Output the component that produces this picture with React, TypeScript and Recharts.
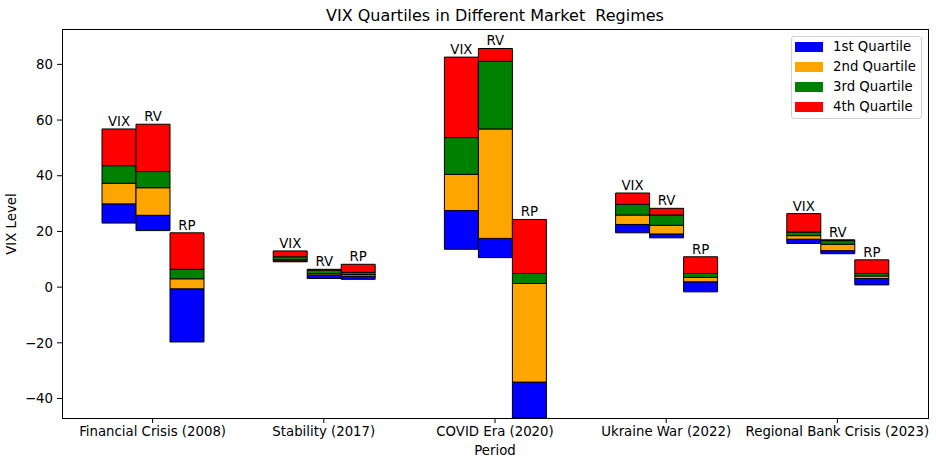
import { BarChart, Bar, XAxis, YAxis, Legend, LabelList } from 'recharts';

// period names on the x axis
const periods = [
  'Financial Crisis (2008)',
  'Stability (2017)',
  'COVID Era (2020)',
  'Ukraine War (2022)',
  'Regional Bank Crisis (2023)',
];

// each entry: [min, 1st, 2nd, 3rd, 4th quartile tops]
const vixBounds = [
  [23.0, 29.9, 37.3, 43.6, 56.8],
  [9.1, 9.5, 9.9, 10.9, 13.0],
  [13.6, 27.5, 40.5, 53.7, 82.6],
  [19.5, 22.5, 25.9, 29.7, 33.8],
  [15.7, 17.2, 18.5, 19.8, 26.4],
];
const rvBounds = [
  [20.3, 25.8, 35.7, 41.5, 58.5],
  [3.1, 4.3, 4.8, 6.1, 6.4],
  [10.6, 17.5, 56.8, 81.1, 85.7],
  [17.7, 19.1, 22.2, 25.9, 28.3],
  [12.0, 13.1, 15.4, 16.7, 17.0],
];
const rpBounds = [
  [-19.7, -0.6, 3.0, 6.4, 19.5],
  [2.8, 3.9, 4.5, 5.3, 8.2],
  [-47.0, -34.1, 1.3, 4.9, 24.3],
  [-1.7, 1.9, 3.5, 4.9, 10.9],
  [0.8, 3.1, 4.0, 4.9, 9.8],
];

const quartileNames = ['1st Quartile', '2nd Quartile', '3rd Quartile', '4th Quartile'];
const quartileColors = ['blue', 'orange', 'green', 'red'];
const yTicks = [-40, -20, 0, 20, 40, 60, 80];

const metrics = [
  { key: 'vix', label: 'VIX', bounds: vixBounds },
  { key: 'rv', label: 'RV', bounds: rvBounds },
  { key: 'rp', label: 'RP', bounds: rpBounds },
];

// invisible base + one segment per quartile, stacked per metric
const chartData = periods.map((period, i) => {
  const row: Record<string, any> = { period };
  metrics.forEach((m) => {
    const b = m.bounds[i];
    row[`${m.key}_base`] = b[0];
    for (let q = 0; q < 4; q++) row[`${m.key}_q${q + 1}`] = b[q + 1] - b[q];
  });
  return row;
});

const FONT = '"DejaVu Sans", sans-serif';

const renderLegend = (props: any) => {
  const items = (props.payload || []).filter((p: any) => p.type !== 'none');
  return (
    <div
      style={{
        width: 131,
        height: 83,
        boxSizing: 'border-box',
        background: 'rgba(255,255,255,0.8)',
        border: '1px solid #d0d0d0',
        borderRadius: 3,
        paddingLeft: 3,
        fontFamily: FONT,
        fontSize: 13.3,
        color: '#000',
      }}
    >
      {items.map((item: any) => (
        <div key={item.value} style={{ height: 20, display: 'flex', alignItems: 'center' }}>
          <span style={{ width: 28, height: 10, background: item.color, marginRight: 10 }} />
          <span style={{ lineHeight: '20px', whiteSpace: 'nowrap' }}>{item.value}</span>
        </div>
      ))}
    </div>
  );
};

export default function App() {
  return (
    <div style={{ position: 'absolute', left: 0, top: 0, width: 936, height: 464, fontFamily: FONT, background: '#fff' }}>
      <div
        style={{
          position: 'absolute',
          left: 62,
          top: 0,
          width: 866,
          lineHeight: '32px',
          fontSize: 16,
          textAlign: 'center',
          whiteSpace: 'pre',
        }}
      >
        {'VIX Quartiles in Different Market  Regimes'}
      </div>

      <BarChart
        width={936}
        height={464}
        data={chartData}
        margin={{ top: 29, right: 8, bottom: 0, left: 0 }}
        barSize={34}
        barGap={0}
        stackOffset="none"
      >
        <XAxis
          dataKey="period"
          type="category"
          height={46}
          padding={{ left: 5, right: 5 }}
          axisLine={false}
          stroke="#000"
          tickSize={5}
          tickMargin={4}
          tick={{ fill: '#000', fontSize: 13.3, fontFamily: FONT }}
          interval={0}
        />
        <YAxis
          type="number"
          width={62}
          domain={[-47, 92.7]}
          ticks={yTicks}
          allowDataOverflow
          axisLine={false}
          stroke="#000"
          tickSize={5}
          tickMargin={4}
          tick={{ fill: '#000', fontSize: 13.3, fontFamily: FONT }}
          tickFormatter={(v: number) => (v < 0 ? `\u2212${Math.abs(v)}` : `${v}`)}
        />
        <Legend
          layout="vertical"
          align="center"
          verticalAlign="middle"
          content={renderLegend}
          wrapperStyle={{ top: 36, left: 791, width: 131, height: 83 }}
        />
        {metrics.map((m, mi) => [
          <Bar
            key={`${m.key}_base`}
            dataKey={`${m.key}_base`}
            stackId={m.key}
            fill="transparent"
            stroke="none"
            legendType="none"
            isAnimationActive={false}
          />,
          ...quartileNames.map((name, q) => (
            <Bar
              key={`${m.key}_q${q + 1}`}
              dataKey={`${m.key}_q${q + 1}`}
              stackId={m.key}
              name={name}
              fill={quartileColors[q]}
              stroke="#000"
              strokeWidth={1}
              legendType={mi === 0 ? 'rect' : 'none'}
              isAnimationActive={false}
            >
              {q === 3 && (
                <LabelList
                  position="top"
                  offset={3}
                  formatter={() => m.label}
                  fill="#000"
                  fontSize={13.3}
                  fontFamily={FONT}
                />
              )}
            </Bar>
          )),
        ])}
      </BarChart>

      {/* axes frame */}
      <div
        style={{
          position: 'absolute',
          left: 62,
          top: 29,
          width: 867,
          height: 390,
          boxSizing: 'border-box',
          border: '1px solid #000',
          pointerEvents: 'none',
        }}
      />

      <div
        style={{
          position: 'absolute',
          left: 62,
          top: 441,
          width: 866,
          lineHeight: '20px',
          fontSize: 13.3,
          textAlign: 'center',
        }}
      >
        Period
      </div>
      <div
        style={{
          position: 'absolute',
          left: -38,
          top: 213.5,
          width: 100,
          height: 20,
          lineHeight: '20px',
          fontSize: 13.3,
          textAlign: 'center',
          transform: 'rotate(-90deg)',
        }}
      >
        VIX Level
      </div>
    </div>
  );
}
